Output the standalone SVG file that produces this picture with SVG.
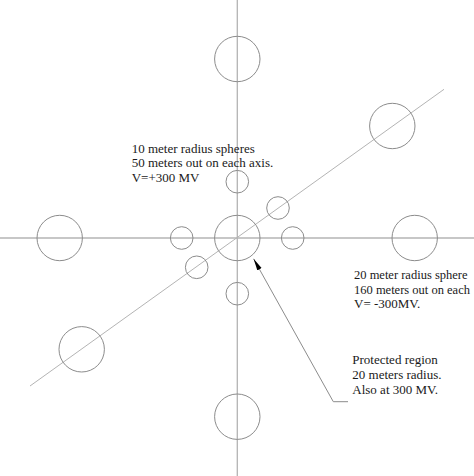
<svg xmlns="http://www.w3.org/2000/svg" width="474" height="476" viewBox="0 0 474 476">
<style>
.ax{stroke:#b4b4b4;fill:none}
.sp{stroke:#8c8c8c;stroke-width:1;fill:none}
.lead{stroke:#8c8c8c;stroke-width:1;fill:none}
text{font-family:"Liberation Serif","Times New Roman",serif;font-size:13px;fill:#1a1a1a}
.tight{font-size:12.5px}
</style>
<defs>
<marker id="ah" viewBox="0 0 12 6" refX="12" refY="3" markerWidth="12" markerHeight="6" markerUnits="userSpaceOnUse" orient="auto">
<path d="M0,0.6 L12,3 L0,5.4 Z" fill="#000"/>
</marker>
</defs>
<g id="connectors">
<line class="ax" x1="237.3" y1="0" x2="237.3" y2="476" stroke-width="1.3"/>
<line class="ax" x1="0" y1="238" x2="474" y2="238" stroke-width="1.6"/>
<line class="ax" x1="30" y1="386" x2="444" y2="89.3" stroke="#a0a0a0" stroke-width="1"/>
<polyline class="lead" points="348,401.7 333.3,401.7 253.6,258.8" marker-end="url(#ah)"/>
</g>
<g id="center-sphere"><circle class="sp" cx="237.3" cy="238" r="22.7"/></g>
<g id="big-top"><circle class="sp" cx="237.3" cy="59" r="22.7"/></g>
<g id="big-bottom"><circle class="sp" cx="237.3" cy="416.7" r="22.7"/></g>
<g id="big-left"><circle class="sp" cx="59.7" cy="238" r="22.7"/></g>
<g id="big-right"><circle class="sp" cx="414.7" cy="238" r="22.7"/></g>
<g id="big-upright"><circle class="sp" cx="392.3" cy="126" r="22.7"/></g>
<g id="big-lowleft"><circle class="sp" cx="81.7" cy="349.3" r="22.7"/></g>
<g id="small-top"><circle class="sp" cx="237.3" cy="181.7" r="11.3"/></g>
<g id="small-bottom"><circle class="sp" cx="237.3" cy="293.7" r="11.3"/></g>
<g id="small-left"><circle class="sp" cx="181.7" cy="238" r="11.3"/></g>
<g id="small-right"><circle class="sp" cx="292.7" cy="238" r="11.3"/></g>
<g id="small-upright"><circle class="sp" cx="278" cy="208" r="11.3"/></g>
<g id="small-lowleft"><circle class="sp" cx="196.7" cy="267.3" r="11.3"/></g>
<g id="label-small">
<text x="131.7" y="152.7">10 meter radius spheres</text>
<text x="131.7" y="167.2">50 meters out on each axis.</text>
<text x="131.7" y="181.7">V=+300 MV</text>
</g>
<g id="label-big">
<text class="tight" x="354" y="279">20 meter radius sphere</text>
<text class="tight" x="354" y="293.5">160 meters out on each</text>
<text x="354" y="308">V= -300MV.</text>
</g>
<g id="label-protected">
<text x="352.3" y="364">Protected region</text>
<text x="352.3" y="379">20 meters radius.</text>
<text x="352.3" y="394">Also at 300 MV.</text>
</g>
</svg>
